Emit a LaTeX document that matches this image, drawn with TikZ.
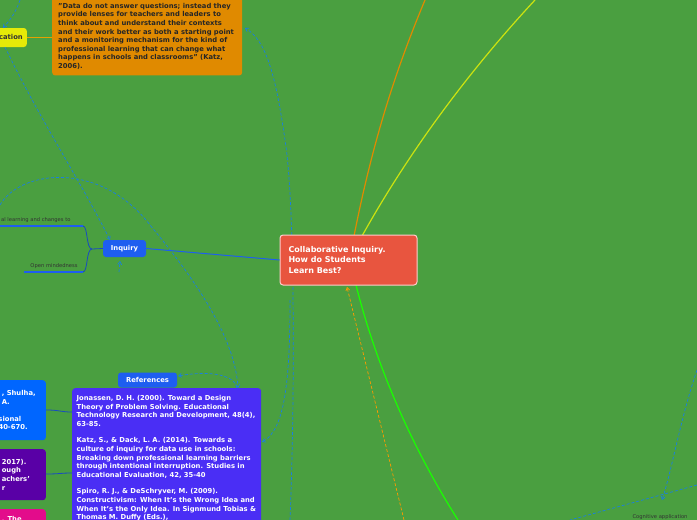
\documentclass[tikz,border=0pt]{standalone}
\usepackage{fontspec}
\setmainfont{DejaVu Sans}
\usetikzlibrary{arrows.meta}
\hyphenpenalty=10000
\definecolor{bg}{HTML}{4A9F40}
\definecolor{ora}{HTML}{E08A00}
\definecolor{redb}{HTML}{E8553F}
\definecolor{blu}{HTML}{1E5EF0}
\definecolor{purp}{HTML}{4A2EF5}
\definecolor{dashcol}{HTML}{1A7FE0}
\tikzset{
  box/.style={rounded corners=3pt, inner sep=4pt, align=flush left, anchor=north west, font=\bfseries\fontsize{6.8}{8.6}\selectfont},
  dline/.style={draw=dashcol, line width=0.7pt, dash pattern=on 3pt off 2pt},
  tipa/.style={-{Straight Barb[length=3pt,width=4pt]}},
  small/.style={font=\fontsize{5.2}{6}\selectfont, text=black!80, inner sep=1pt}
}
\begin{document}
\begin{tikzpicture}[x=1pt,y=-1pt]
\useasboundingbox (0,0) rectangle (697,520);
\clip (0,0) rectangle (697,520);
\fill[bg] (0,0) rectangle (697,520);
% main branches
\draw[ora, line width=1.2pt] (354,236) .. controls (375,130) and (400,60) .. (425,0);
\draw[yellow!80!green, line width=1.2pt] (362,236) .. controls (410,150) and (470,70) .. (535,0);
\draw[green!90!yellow, line width=1.2pt] (356,285) .. controls (380,380) and (420,460) .. (458,520);
\draw[dline, draw=orange!80!yellow, tipa] (404,520) -- (347,287);
% dashed connectors
\draw[dline, tipa] (290,520) .. controls (295,400) and (295,200) .. (285,140) .. controls (275,70) and (265,40) .. (245,28);
\draw[dline, tipa] (20,0) .. controls (15,15) and (8,22) .. (3,28);
\draw[dline, tipa] (5,47) .. controls (40,120) and (80,180) .. (110,240);
\draw[dline, tipa] (0,205) .. controls (20,170) and (100,160) .. (150,225) .. controls (200,285) and (235,340) .. (238,388);
\draw[dline, tipa] (237,388) .. controls (235,375) and (210,370) .. (178,376);
\draw[dline, tipa] (290,300) .. controls (290,380) and (285,430) .. (262,442);
\draw[dline, tipa] (119,272) -- (120,261);
\draw[dline] (697,485) -- (570,520);
\draw[dline, tipa] (697,370) .. controls (680,420) and (672,470) .. (662,500);
\node[small, anchor=north] (cog) at (660,513) {Cognitive application};
% yellow node and orange box
\node[box, fill=yellow!90!green, text=black!80, anchor=east, minimum height=19pt, font=\bfseries\fontsize{6.8}{8}\selectfont] (app) at (27,37.5) {Data Application};
\node[box, fill=ora, text=black!85, minimum width=190pt, text width=178pt, inner ysep=6pt] (data) at (52,-3) {"Data do not answer questions; instead they provide lenses for teachers and leaders to think about and understand their contexts and their work better as both a starting point and a monitoring mechanism for the kind of professional learning that can change what happens in schools and classrooms" (Katz, 2006).};
\draw[ora!80!yellow, line width=1pt] (app.east) -- (data.west |- app.east);
% center
\node[box, fill=redb, text=white, draw=white!80!red, line width=1pt, minimum width=137pt, minimum height=50pt, text width=120pt, font=\bfseries\fontsize{8}{10.5}\selectfont, anchor=center] (c) at (348.5,260) {Collaborative Inquiry.\\How do Students\\Learn Best?};
% inquiry
\node[box, fill=blu, text=white, anchor=center, minimum width=43pt, minimum height=17pt, align=center] (inq) at (124.5,248.5) {Inquiry};
\draw[blu, line width=1pt] (inq.east) -- (c.west);
\coordinate (j) at (92,249);
\draw[blu!80!black, line width=0.8pt] (inq.west) -- (j) .. controls (86,249) and (88,226) .. (83,226);
\draw[blu!80!black, line width=0.8pt] (j) .. controls (86,249) and (88,272) .. (83,272);
\draw[blu, line width=1.6pt] (0,226) -- (83,226);
\draw[blu, line width=1.6pt] (24,272) -- (83,272);
\node[small, anchor=south west] (t1) at (0,224) {al learning and changes to};
\node[small, anchor=south] (t2) at (54,270) {Open mindedness};
% references
\node[box, fill=blu, text=white, anchor=center, minimum width=59pt, minimum height=15pt, align=center] (ref) at (147.5,380) {References};
\node[box, fill=purp, text=white, minimum width=189pt, minimum height=140pt, text width=180pt] (refs) at (72,388) {Jonassen, D. H. (2000). Toward a Design Theory of Problem Solving. Educational Technology Research and Development, 48(4), 63-85.\\[8pt]Katz, S., \& Dack, L. A. (2014). Towards a culture of inquiry for data use in schools: Breaking down professional learning barriers through intentional interruption. Studies in Educational Evaluation, 42, 35-40\\[8pt]Spiro, R. J., \& DeSchryver, M. (2009). Constructivism: When It's the Wrong Idea and When It's the Only Idea. In Signmund Tobias \& Thomas M. Duffy (Eds.),};
% left boxes
\node[box, fill=blue!60!cyan, text=white, anchor=north east, minimum height=60pt, text width=60pt] (l1) at (46,380) {\hspace*{20pt}, Shulha,\\\hspace*{20pt}A.\\[8pt]\hspace*{8pt}essional\\\hspace*{12pt}640-670.};
\node[box, fill=violet!70!blue, text=white, anchor=north east, minimum height=51pt, text width=60pt] (l2) at (46,449) {\hspace*{20pt}2017).\\\hspace*{20pt}ough\\\hspace*{20pt}achers'\\\hspace*{20pt}r};
\node[box, fill=magenta!90!violet, text=white, anchor=north east, minimum height=20pt, text width=60pt] (l3) at (46,509) {\hspace*{20pt}. The};
\draw[blu!80!black, line width=0.8pt] (l1.east |- 0,410) .. controls (60,410) and (60,412) .. (72,412);
\draw[blu!80!black, line width=0.8pt] (l2.east |- 0,474) .. controls (60,474) and (60,473) .. (72,473);
\end{tikzpicture}
\end{document}
